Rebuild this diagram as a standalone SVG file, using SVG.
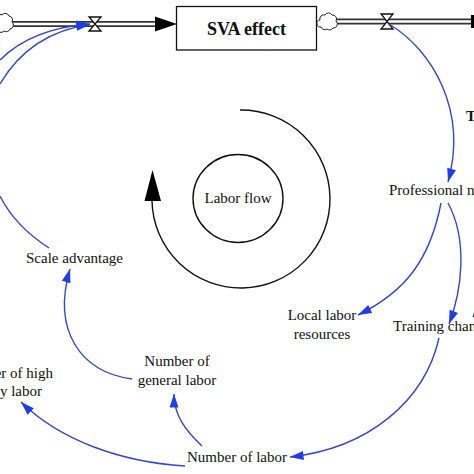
<svg xmlns="http://www.w3.org/2000/svg" width="474" height="474" viewBox="0 0 474 474">
<defs>
<style>
.t{font-family:"Liberation Serif","Times New Roman",serif;font-size:15px;fill:#111}
.b{font-family:"Liberation Serif","Times New Roman",serif;font-size:18px;font-weight:bold;fill:#111}
.lnk{fill:none;stroke:#3747c9;stroke-width:1.4}
.pipeo{stroke:#333;stroke-width:6;fill:none}
.pipei{stroke:#fff;stroke-width:2.6;fill:none}
.valve{fill:#fff;stroke:#111;stroke-width:1.3}
.cloud{fill:#fff;stroke:#222;stroke-width:1}
</style>
<marker id="ba" viewBox="0 0 15 10" refX="15" refY="5" markerWidth="15" markerHeight="9" markerUnits="userSpaceOnUse" orient="auto">
<path d="M0,0 L15,5 L0,10 z" fill="#1f3de8"/>
</marker>
</defs>
<rect width="474" height="474" fill="#fff"/>

<g id="flow-left">
<line class="pipeo" x1="10" y1="24" x2="157" y2="24"/>
<line class="pipei" x1="10" y1="24" x2="157" y2="24"/>
<path class="cloud" d="M-4,20 a4,4 0 0 1 6,-5 a4,4 0 0 1 7,1 a4,4 0 0 1 3,6 a4,4 0 0 1 -2,7 a4,4 0 0 1 -6,2 a4,4 0 0 1 -7,-2 z"/>
<path d="M155,16.5 L177,24 L155,31.5 z" fill="#000"/>
</g>

<g id="valve-left">
<path class="valve" d="M89,17 L101,17 L95,24 z M89,31 L101,31 L95,24 z"/>
</g>

<g id="sva-effect">
<rect x="176.5" y="6.5" width="140" height="43.5" fill="#fff" stroke="#111" stroke-width="1.3"/>
<text class="b" x="246.5" y="35" text-anchor="middle">SVA effect</text>
</g>

<g id="flow-right">
<line class="pipeo" x1="334" y1="21.5" x2="472" y2="21.5"/>
<line class="pipei" x1="334" y1="21.5" x2="472" y2="21.5"/>
<path class="cloud" d="M320,20 a4,4 0 0 1 5,-5 a4,4 0 0 1 7,0 a4,4 0 0 1 4,6 a4,4 0 0 1 -3,7 a4,4 0 0 1 -6,1 a4,4 0 0 1 -6,-2 a3,3 0 0 1 -1,-7 z"/>
<rect x="471" y="15" width="3" height="13" fill="#000"/>
</g>

<g id="valve-right">
<path class="valve" d="M381,14 L393,14 L387,21.5 z M381,29 L393,29 L387,21.5 z"/>
</g>

<g id="loop">
<path d="M240,110 A89,89 0 1 1 152,201" fill="none" stroke="#111" stroke-width="1.4"/>
<path d="M152.5,170 L144.5,201 L161,201 z" fill="#000"/>
</g>

<g id="labor-flow">
<ellipse cx="238" cy="198.5" rx="45" ry="44" fill="none" stroke="#111" stroke-width="1.4"/>
<text class="t" x="238" y="203" text-anchor="middle">Labor flow</text>
</g>

<g id="scale-advantage"><text class="t" x="26" y="263">Scale advantage</text></g>
<g id="professional"><text class="t" x="389" y="195">Professional ne</text></g>
<g id="t-label"><text class="t" x="466" y="121" font-weight="bold">T</text></g>
<g id="local-labor"><text class="t" x="322" y="320" text-anchor="middle">Local labor</text><text class="t" x="322" y="339" text-anchor="middle">resources</text></g>
<g id="training"><text class="t" x="393" y="331">Training chan</text></g>
<g id="general-labor"><text class="t" x="177" y="366" text-anchor="middle">Number of</text><text class="t" x="177" y="385" text-anchor="middle">general labor</text></g>
<g id="high-quality"><text class="t" x="53" y="378" text-anchor="end">er of high</text><text class="t" x="42" y="396" text-anchor="end">y labor</text></g>
<g id="number-labor"><text class="t" x="187" y="462">Number of labor</text></g>

<g id="connectors">
<path class="lnk" d="M0,60 C20,40 50,27 90,24" marker-end="url(#ba)"/>
<path class="lnk" d="M0,84 C20,50 50,30 90,24.5" marker-end="url(#ba)"/>
<path class="lnk" d="M49,248 Q15,226 0,196"/>
<path class="lnk" d="M132,379 C80,372 52,330 70,269" marker-end="url(#ba)"/>
<path class="lnk" d="M202,446 C185,430 174,415 174,394" marker-end="url(#ba)"/>
<path class="lnk" d="M185,466 C120,462 60,440 21,402" marker-end="url(#ba)"/>
<path class="lnk" d="M439,338 C425,400 370,448 290,457" marker-end="url(#ba)"/>
<path class="lnk" d="M441,203 C430,260 405,292 358,315" marker-end="url(#ba)"/>
<path class="lnk" d="M448,203 C468,240 462,290 449,324" marker-end="url(#ba)"/>
<path class="lnk" d="M482,285 C480,298 478,308 473,317" marker-end="url(#ba)"/>
<path class="lnk" d="M389,24 C432,50 468,110 448,182" marker-end="url(#ba)"/>
</g>
</svg>
